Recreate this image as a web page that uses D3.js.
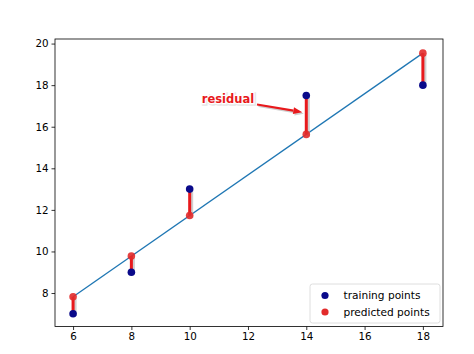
<!DOCTYPE html>
<html><head><meta charset="utf-8">
<script src="https://cdn.jsdelivr.net/npm/d3@7"></script>
<style>body{margin:0;background:#fff}svg{display:block}text{font-family:"DejaVu Sans",sans-serif}</style>
</head><body>
<script>
const xs = [6, 8, 10, 14, 18];
const trainY = [7, 9, 13, 17.5, 18];
const predY = [7.82, 9.78, 11.73, 15.63, 19.54];
const xTicks = [6, 8, 10, 12, 14, 16, 18];
const yTicks = [8, 10, 12, 14, 16, 18, 20];
const legendLabels = ["training points", "predicted points"];
const annText = "residual";

const W = 474, H = 354;
const m = {l: 55, r: 443, t: 39, b: 326.5};
const svg = d3.select("body").append("svg").attr("width", W).attr("height", H);
const x = d3.scaleLinear().domain([5.38, 18.69]).range([m.l, m.r]);
const y = d3.scaleLinear().domain([6.39, 20.22]).range([m.b, m.t]);

// regression line
svg.append("line")
  .attr("x1", x(xs[0])).attr("y1", y(predY[0]))
  .attr("x2", x(xs[xs.length-1])).attr("y2", y(predY[predY.length-1]))
  .attr("stroke", "#1f77b4").attr("stroke-width", 1.3);

// residual lines: shadow then red
const g = svg.append("g");
xs.forEach((v, i) => {
  g.append("line").attr("x1", x(v) + 2).attr("x2", x(v) + 2)
    .attr("y1", y(trainY[i]) + 2).attr("y2", y(predY[i]) + 2)
    .attr("stroke", "#bbbbbb").attr("stroke-width", 3).attr("opacity", 0.7);
  g.append("line").attr("x1", x(v)).attr("x2", x(v))
    .attr("y1", y(trainY[i])).attr("y2", y(predY[i]))
    .attr("stroke", "#e8191c").attr("stroke-width", 3);
});

// points
svg.append("g").selectAll("circle").data(xs).join("circle")
  .attr("cx", d => x(d)).attr("cy", (d, i) => y(trainY[i])).attr("r", 3.8)
  .attr("fill", "#0a0a8a");
svg.append("g").selectAll("circle").data(xs).join("circle")
  .attr("cx", d => x(d)).attr("cy", (d, i) => y(predY[i])).attr("r", 3.8)
  .attr("fill", "#e22b2b").attr("opacity", 0.9);

// annotation arrow
const ax1 = 257, ay1 = 104.5, ax2 = x(14) - 4, ay2 = y(16.7);
const ang = Math.atan2(ay2 - ay1, ax2 - ax1);
function arrow(gr, dx, dy, col, op) {
  const hx = ax2 - 9 * Math.cos(ang), hy = ay2 - 9 * Math.sin(ang);
  gr.append("line").attr("x1", ax1 + dx).attr("y1", ay1 + dy).attr("x2", hx + dx).attr("y2", hy + dy)
    .attr("stroke", col).attr("stroke-width", 2.2).attr("opacity", op);
  const px = -Math.sin(ang), py = Math.cos(ang);
  const pts = [[ax2, ay2], [hx + px * 3.5, hy + py * 3.5], [hx - px * 3.5, hy - py * 3.5]]
    .map(p => [p[0] + dx, p[1] + dy]);
  gr.append("polygon").attr("points", pts.map(p => p.join(",")).join(" "))
    .attr("fill", col).attr("opacity", op);
}
const ag = svg.append("g");
arrow(ag, 1.5, 1.5, "#bbbbbb", 0.7);
arrow(ag, 0, 0, "#e8191c", 1);

// annotation text
svg.append("text").attr("x", 229).attr("y", 104).attr("text-anchor", "middle")
  .attr("font-size", 11.5).attr("font-weight", "bold").attr("fill", "#cccccc")
  .attr("stroke", "#dddddd").attr("stroke-width", 3.5).attr("opacity", 0.7)
  .text(annText);
svg.append("text").attr("x", 228).attr("y", 103).attr("text-anchor", "middle")
  .attr("font-size", 11.5).attr("font-weight", "bold").attr("fill", "#e8191c")
  .attr("stroke", "#ffffff").attr("stroke-width", 2.5).attr("paint-order", "stroke")
  .text(annText);

// axes
const xa = svg.append("g").attr("transform", `translate(0,${m.b})`)
  .call(d3.axisBottom(x).tickValues(xTicks).tickSize(3.5).tickPadding(3));
const ya = svg.append("g").attr("transform", `translate(${m.l},0)`)
  .call(d3.axisLeft(y).tickValues(yTicks).tickSize(3.5).tickPadding(3));
[xa, ya].forEach(a => {
  a.select(".domain").remove();
  a.selectAll("text").attr("font-size", 10.3).attr("fill", "#000").attr("font-family", "DejaVu Sans");
  a.selectAll("line").attr("stroke", "#000").attr("stroke-width", 0.8);
});
svg.append("rect").attr("x", m.l).attr("y", m.t).attr("width", m.r - m.l).attr("height", m.b - m.t)
  .attr("fill", "none").attr("stroke", "#000").attr("stroke-width", 0.8);

// legend
const lg = svg.append("g");
lg.append("rect").attr("x", 310).attr("y", 284).attr("width", 130).attr("height", 39).attr("rx", 2.5)
  .attr("fill", "#fff").attr("fill-opacity", 0.8).attr("stroke", "#d6d6d6").attr("stroke-width", 0.8);
const lcol = ["#0a0a8a", "#e22b2b"];
legendLabels.forEach((t, i) => {
  const yy = 295.5 + i * 16.5;
  lg.append("circle").attr("cx", 325).attr("cy", yy).attr("r", 3.6).attr("fill", lcol[i]);
  lg.append("text").attr("x", 343.5).attr("y", yy + 3.7).attr("font-size", 10.6).attr("fill", "#000").text(t);
});
</script>
</body></html>
